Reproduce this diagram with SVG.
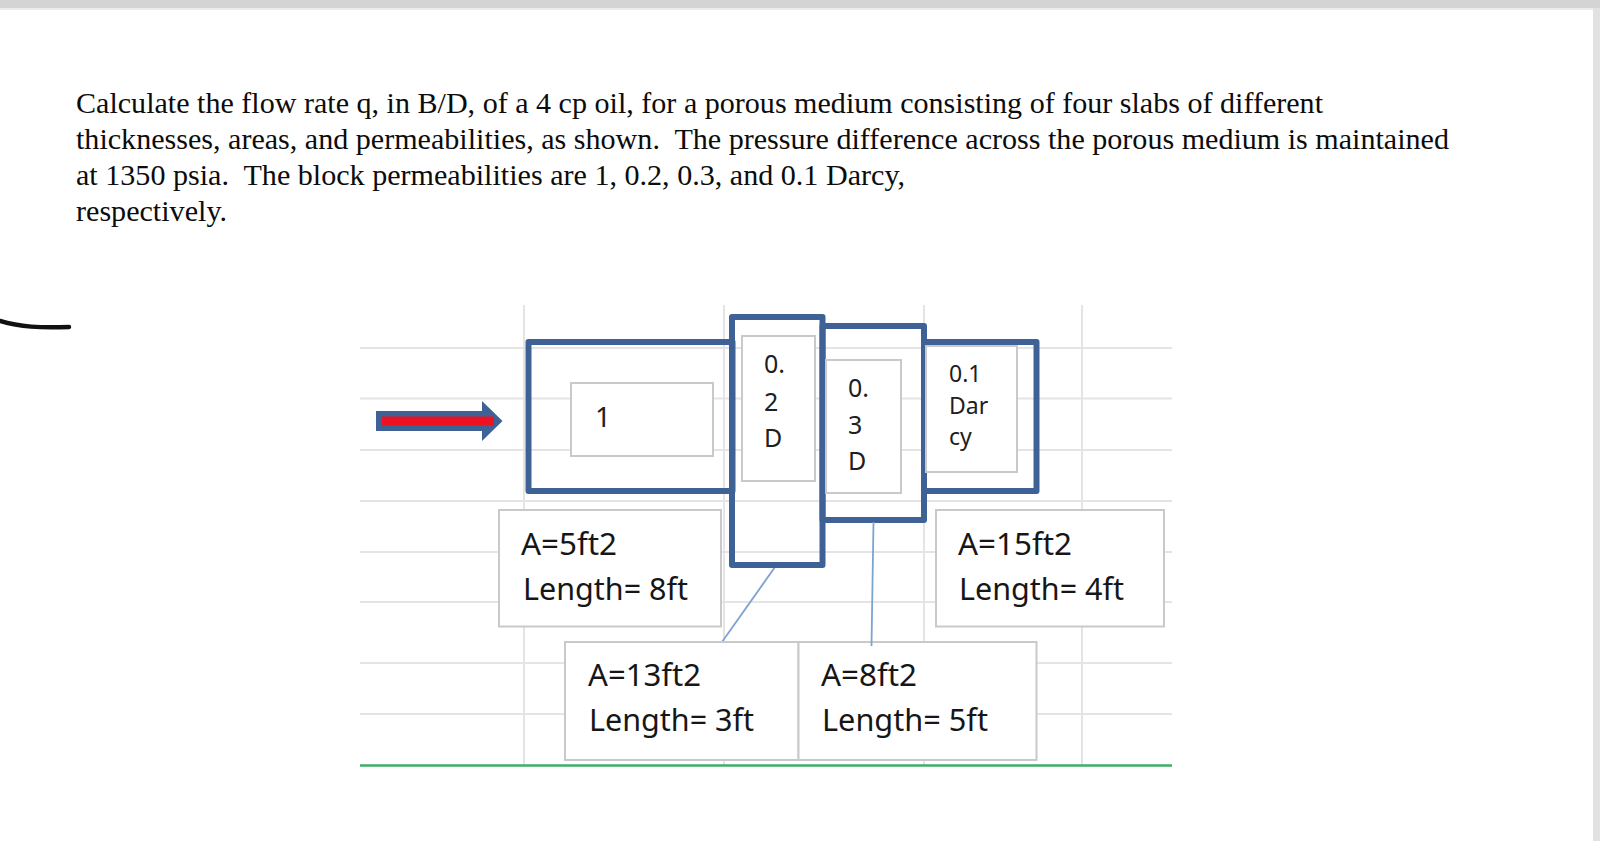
<svg xmlns="http://www.w3.org/2000/svg" width="1600" height="841" viewBox="0 0 1600 841">
<style>
.q{font-family:"Liberation Serif","Times New Roman",serif;font-size:30px;fill:#0c0c0c;white-space:pre}
.l{font-family:"Noto Sans","Open Sans",sans-serif;font-size:30px;fill:#161616;white-space:pre}
.s{font-family:"Noto Sans","Open Sans",sans-serif;font-size:25px;fill:#202020}
.t{font-size:23px}
.g{stroke:#e4e4e4;stroke-width:2;fill:none}
.b{fill:none;stroke:#3e6296;stroke-width:6;stroke-linejoin:round}
.i{fill:#fff;stroke:#c9c9c9;stroke-width:2}
.c{stroke:#7fa3d0;stroke-width:1.8;fill:none}
</style>
<rect width="1600" height="841" fill="#fff"/>
<rect width="1600" height="8" fill="#d4d4d4"/>
<rect x="0" y="8" width="1593" height="2" fill="#ececec"/>
<rect x="1593" y="8" width="7" height="833" fill="#e2e2e2"/>
<g id="question">
<text class="q" x="76" y="113" textLength="1247" lengthAdjust="spacingAndGlyphs">Calculate the flow rate q, in B/D, of a 4 cp oil, for a porous medium consisting of four slabs of different</text>
<text class="q" x="76" y="149" textLength="1373" lengthAdjust="spacingAndGlyphs">thicknesses, areas, and permeabilities, as shown.  The pressure difference across the porous medium is maintained</text>
<text class="q" x="76" y="185" textLength="829" lengthAdjust="spacingAndGlyphs">at 1350 psia.  The block permeabilities are 1, 0.2, 0.3, and 0.1 Darcy,</text>
<text class="q" x="76" y="221" textLength="151" lengthAdjust="spacingAndGlyphs">respectively.</text>
</g>
<path d="M0 321C20 327 40 328 69 327" fill="none" stroke="#111" stroke-width="4.500" stroke-linecap="round"/>
<g id="grid">
<path class="g" d="M360 348H1172M360 398.500H1172M360 450H1172M360 501H1172M360 552H1172M360 602H1172M360 663H1172M360 714H1172"/>
<path class="g" d="M524 305V765M724 305V765M924 305V765M1082 305V765"/>
<path d="M360 765.500H1172" stroke="#3fae68" stroke-width="2.500" fill="none"/>
</g>
<g id="connectors">
<path class="c" d="M775 567L722 642"/>
</g>
<g id="block-1"><rect class="b" x="528.500" y="342" width="204" height="149"/><rect class="i" x="571" y="383" width="142" height="73"/><text class="s" x="595" y="427" style="font-size:28px">1</text></g>
<g id="block-2"><rect class="b" x="732" y="317" width="90.500" height="248"/><rect class="i" x="742" y="336" width="73" height="145"/><text class="s" x="764" y="373">0.</text><text class="s" x="764" y="411">2</text><text class="s" x="764" y="447">D</text></g>
<g id="block-3"><rect class="b" x="822.500" y="326" width="101.500" height="194"/><rect class="i" x="826" y="360" width="75" height="133"/><text class="s" x="848" y="397">0.</text><text class="s" x="848" y="434">3</text><text class="s" x="848" y="470">D</text></g>
<g id="block-4"><rect class="b" x="924" y="342" width="112.500" height="149"/><rect class="i" x="926" y="346" width="91" height="126"/><text class="s t" x="949" y="382">0.1</text><text class="s t" x="949" y="414">Dar</text><text class="s t" x="949" y="445">cy</text></g>
<g id="label-1"><rect class="i" x="499" y="510" width="222" height="116.500"/><text class="l" x="521" y="555" textLength="96" lengthAdjust="spacingAndGlyphs">A=5ft2</text><text class="l" x="523" y="600" textLength="165" lengthAdjust="spacingAndGlyphs">Length= 8ft</text></g>
<g id="label-2"><rect class="i" x="565" y="642" width="233.500" height="118"/><text class="l" x="588" y="686" textLength="113" lengthAdjust="spacingAndGlyphs">A=13ft2</text><text class="l" x="589" y="731" textLength="165" lengthAdjust="spacingAndGlyphs">Length= 3ft</text></g>
<g id="label-3"><rect class="i" x="798.500" y="642" width="238" height="118"/><text class="l" x="821" y="686" textLength="96" lengthAdjust="spacingAndGlyphs">A=8ft2</text><text class="l" x="822" y="731" textLength="166" lengthAdjust="spacingAndGlyphs">Length= 5ft</text></g>
<g id="label-4"><rect class="i" x="936" y="510" width="228" height="116.500"/><text class="l" x="958" y="555" textLength="114" lengthAdjust="spacingAndGlyphs">A=15ft2</text><text class="l" x="959" y="600" textLength="165" lengthAdjust="spacingAndGlyphs">Length= 4ft</text></g>
<g id="connector-overlay"><path class="c" d="M873.500 522L871.500 646"/></g>
<g id="arrow">
<path d="M376 411H482V401L502.500 421L482 441V431H376Z" fill="#3e6296"/>
<path d="M382 416.500H494V425.500H382Z" fill="#ee1122"/>
</g>
</svg>
